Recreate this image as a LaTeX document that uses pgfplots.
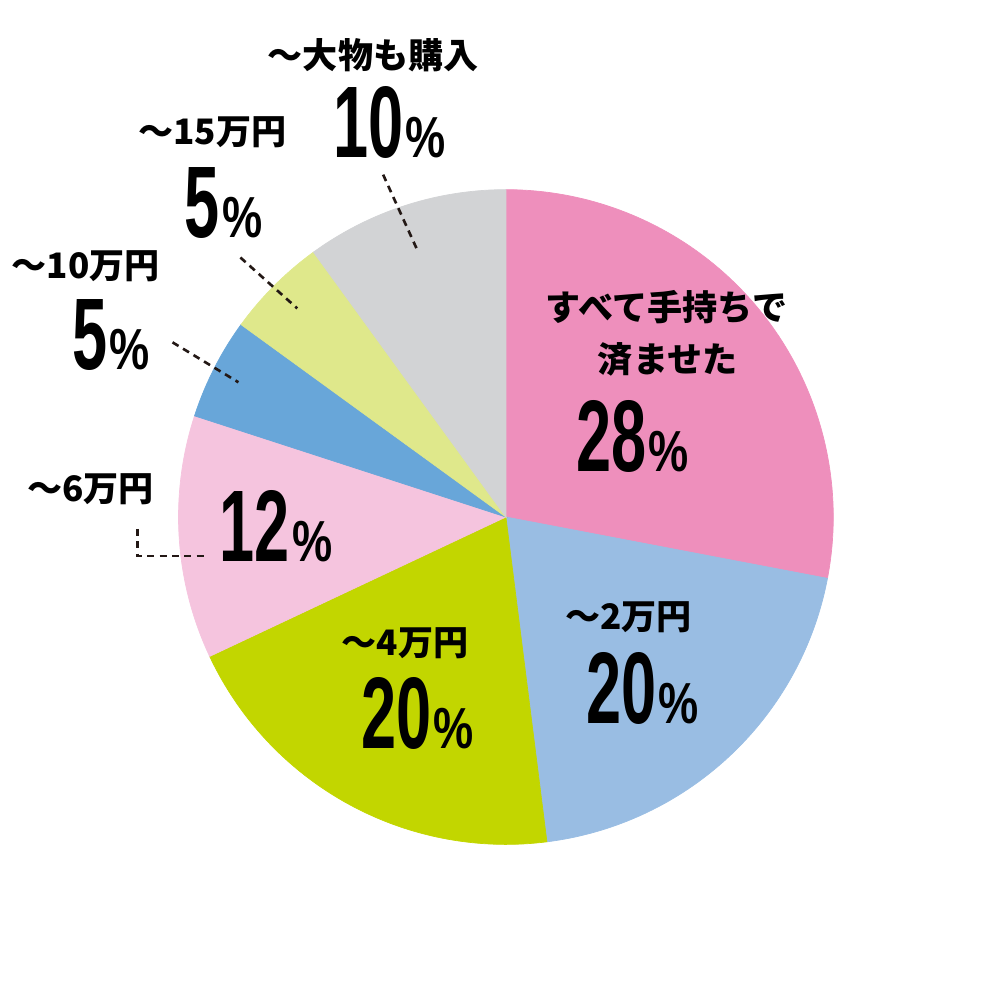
\documentclass[border=0pt]{standalone}
\usepackage{graphicx}
\usepackage{fontspec}
\usepackage{pgfplots}
\pgfplotsset{compat=1.18}
\newfontfamily\jp{Noto Sans CJK JP}
\newfontfamily\numf{Liberation Sans}

\definecolor{ink}{HTML}{231815}
\definecolor{slicepink}{HTML}{EE8FBC}
\definecolor{sliceblue}{HTML}{99BDE3}
\definecolor{slicelime}{HTML}{C2D600}
\definecolor{slicerose}{HTML}{F5C4DE}
\definecolor{slicesky}{HTML}{68A6D9}
\definecolor{slicepale}{HTML}{DFE88B}
\definecolor{slicegray}{HTML}{D2D3D5}

% one wedge: cumulative percent at start, at end, colour (clockwise from 12 o'clock)
\newcommand{\slice}[3]{%
  \addplot[fill=#3, draw=#3, line width=0.2pt, domain=90-3.6*#2:90-3.6*#1, samples=90]
    ({505+328*cos(x)}, {482+328*sin(x)}) -- (505,482) -- cycle;
}
\newcommand{\jlab}[1]{{\jp\bfseries\fontsize{10}{12}\selectfont #1}}
\newcommand{\pct}[1]{%
  \scalebox{0.62}[1]{\numf\bfseries\fontsize{29}{30}\selectfont #1}\hspace{0.6pt}%
  \scalebox{0.78}[1]{\numf\bfseries\fontsize{16.5}{17}\selectfont\%}}

\begin{document}
\begin{tikzpicture}
\begin{axis}[
    width=10cm, height=10cm, scale only axis,
    xmin=0, xmax=1000, ymin=0, ymax=1000,
    hide axis, clip=false,
    every node/.style={text=ink, inner sep=0pt}
]
\path (rel axis cs:0,0) rectangle (rel axis cs:1,1);

% percentages: 28, 20, 20, 12, 5, 5, 10
\slice{0}{28}{slicepink}
\slice{28}{48}{sliceblue}
\slice{48}{68}{slicelime}
\slice{68}{80}{slicerose}
\slice{80}{85}{slicesky}
\slice{85}{90}{slicepale}
\slice{90}{100}{slicegray}

% leader lines
\begin{scope}[ink, line width=0.75pt, dash pattern=on 2pt off 1.5pt]
\draw (382,825) -- (416,750);
\draw (239,742) -- (296,691);
\draw (171,657) -- (237,617);
\draw (136,470) -- (136,443) -- (203,443);
\end{scope}

% category labels
\node at (666,692) {\jlab{すべて手持ちで}};
\node at (667,640) {\jlab{済ませた}};
\node at (628,382) {\jlab{～2万円}};
\node at (404,356) {\jlab{～4万円}};
\node at (89,510) {\jlab{～6万円}};
\node at (84,733) {\jlab{～10万円}};
\node at (211,867) {\jlab{～15万円}};
\node at (372,945) {\jlab{～大物も購入}};

% values
\node[anchor=base west] at (563,528) {\pct{28}};
\node[anchor=base west] at (573,275) {\pct{20}};
\node[anchor=base west] at (348,250) {\pct{20}};
\node[anchor=base west] at (206,437) {\pct{12}};
\node[anchor=base west] at (58,630) {\pct{5}};
\node[anchor=base west] at (171,762) {\pct{5}};
\node[anchor=base west] at (320,842) {\pct{10}};
\end{axis}
\end{tikzpicture}
\end{document}
